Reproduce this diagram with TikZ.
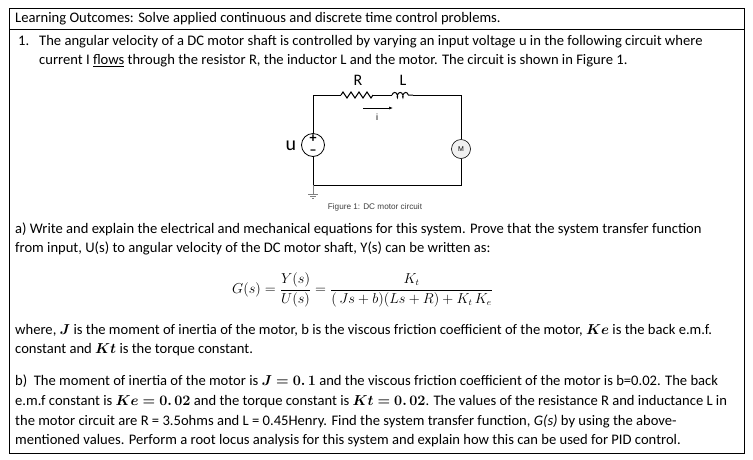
\documentclass[tikz,border=0pt]{standalone}
\usepackage{amsmath,bm}
\usepackage{fontspec}
\setmainfont{Carlito}
\newfontfamily\capfont{Liberation Sans}
\usetikzlibrary{decorations.pathmorphing,arrows.meta}
\begin{document}
\begin{tikzpicture}[x=1pt,y=-1pt,
  txt/.style={anchor=base west,inner sep=0,font=\fontsize{14.6}{16}\selectfont},
  wire/.style={line width=1pt},
  every node/.style={inner sep=0}]
\useasboundingbox (0,0) rectangle (753,459);
\draw[line width=0.6pt] (9,8) rectangle (744,453);
\draw[line width=0.6pt] (9,29) -- (744,29);
\node[txt] (l0) at (15,22) {Learning Outcomes: Solve applied continuous and discrete time control problems.};
\node[txt] (n1) at (18,45) {1.};
\node[txt] (l1) at (39,45) {The angular velocity of a DC motor shaft is controlled by varying an input voltage u in the following circuit where};
\node[txt] (l2) at (39,64) {current I \underline{flows} through the resistor R, the inductor L and the motor. The circuit is shown in Figure 1.};
% circuit
\coordinate (tl) at (313,95); \coordinate (tr) at (461,95);
\coordinate (bl) at (313,185); \coordinate (br) at (461,185);
\coordinate (r1) at (341,95); \coordinate (r2) at (373,95);
\coordinate (i1) at (392,95); \coordinate (i2) at (413,95);
\node[circle,draw,line width=0.8pt,minimum size=23pt] (src) at (313,145) {};
\node[circle,draw,line width=0.6pt,fill=gray!12,minimum size=19pt,font=\capfont\fontsize{7}{7}\selectfont] (mot) at (461,149) {M};
\draw[wire] (src.north) -- (tl) -- (r1);
\draw[wire,decorate,decoration={zigzag,segment length=8pt,amplitude=3pt}] (r1) -- (r2);
\draw[wire] (r2) -- (i1);
\draw[wire,decorate,decoration={coil,aspect=0.5,segment length=5.5pt,amplitude=2.6pt}] (i1) -- (i2);
\draw[wire] (i2) -- (tr) -- (mot.north);
\draw[wire] (mot.south) -- (br) -- (bl) -- (src.south);
\draw[line width=0.4pt,gray] (bl) -- (313,194);
\draw[line width=0.4pt,gray] (308,194) -- (318,194) (310,196) -- (316,196) (312,198) -- (314,198);
\node[font=\fontsize{14}{14}\selectfont\bfseries] (plus) at (313,139) {+};
\node[font=\fontsize{14}{14}\selectfont\bfseries] (minus) at (313,152) {–};
\node[font=\fontsize{20}{20}\selectfont] (u) at (291,146) {u};
\node[font=\fontsize{16}{16}\selectfont] (R) at (358,80) {R};
\node[font=\fontsize{16}{16}\selectfont] (L) at (403,80) {L};
\coordinate (a1) at (363,108); \coordinate (a2) at (393,108);
\draw[line width=0.6pt,-{Latex[length=4pt,width=3pt]}] (a1) -- (a2);
\node[font=\capfont\fontsize{9}{9}\selectfont] (i) at (377,117) {i};
\node[font=\capfont\fontsize{8.2}{8}\selectfont,text=black!75] (cap) at (375,207) {Figure 1: DC motor circuit};
% part a
\node[txt] (a1t) at (15,233) {a) Write and explain the electrical and mechanical equations for this system. Prove that the system transfer function};
\node[txt] (a2t) at (15,252) {from input, U(s) to angular velocity of the DC motor shaft, Y(s) can be written as:};
\node[anchor=west,font=\fontsize{13.5}{16}\selectfont] (G) at (232,290) {$G(s)=\dfrac{Y(s)}{U(s)}=\dfrac{K_t}{(\,Js+b)(Ls+R)+K_t\,K_e}$};
\node[txt] (w1) at (15,334) {where, $\bm{J}$ is the moment of inertia of the motor, b is the viscous friction coefficient of the motor, $\bm{Ke}$ is the back e.m.f.};
\node[txt] (w2) at (15,353) {constant and $\bm{Kt}$ is the torque constant.};
% part b
\node[txt] (b1) at (15,385) {b)\ \ The moment of inertia of the motor is $\bm{J=0.\,1}$ and the viscous friction coefficient of the motor is b=0.02. The back};
\node[txt] (b2) at (15,405) {e.m.f constant is $\bm{Ke=0.\,02}$ and the torque constant is $\bm{Kt=0.\,02}$. The values of the resistance R and inductance L in};
\node[txt] (b3) at (15,425) {the motor circuit are R = 3.5ohms and L = 0.45Henry. Find the system transfer function, \textit{G(s)} by using the above-};
\node[txt] (b4) at (15,444) {mentioned values. Perform a root locus analysis for this system and explain how this can be used for PID control.};
\end{tikzpicture}
\end{document}
